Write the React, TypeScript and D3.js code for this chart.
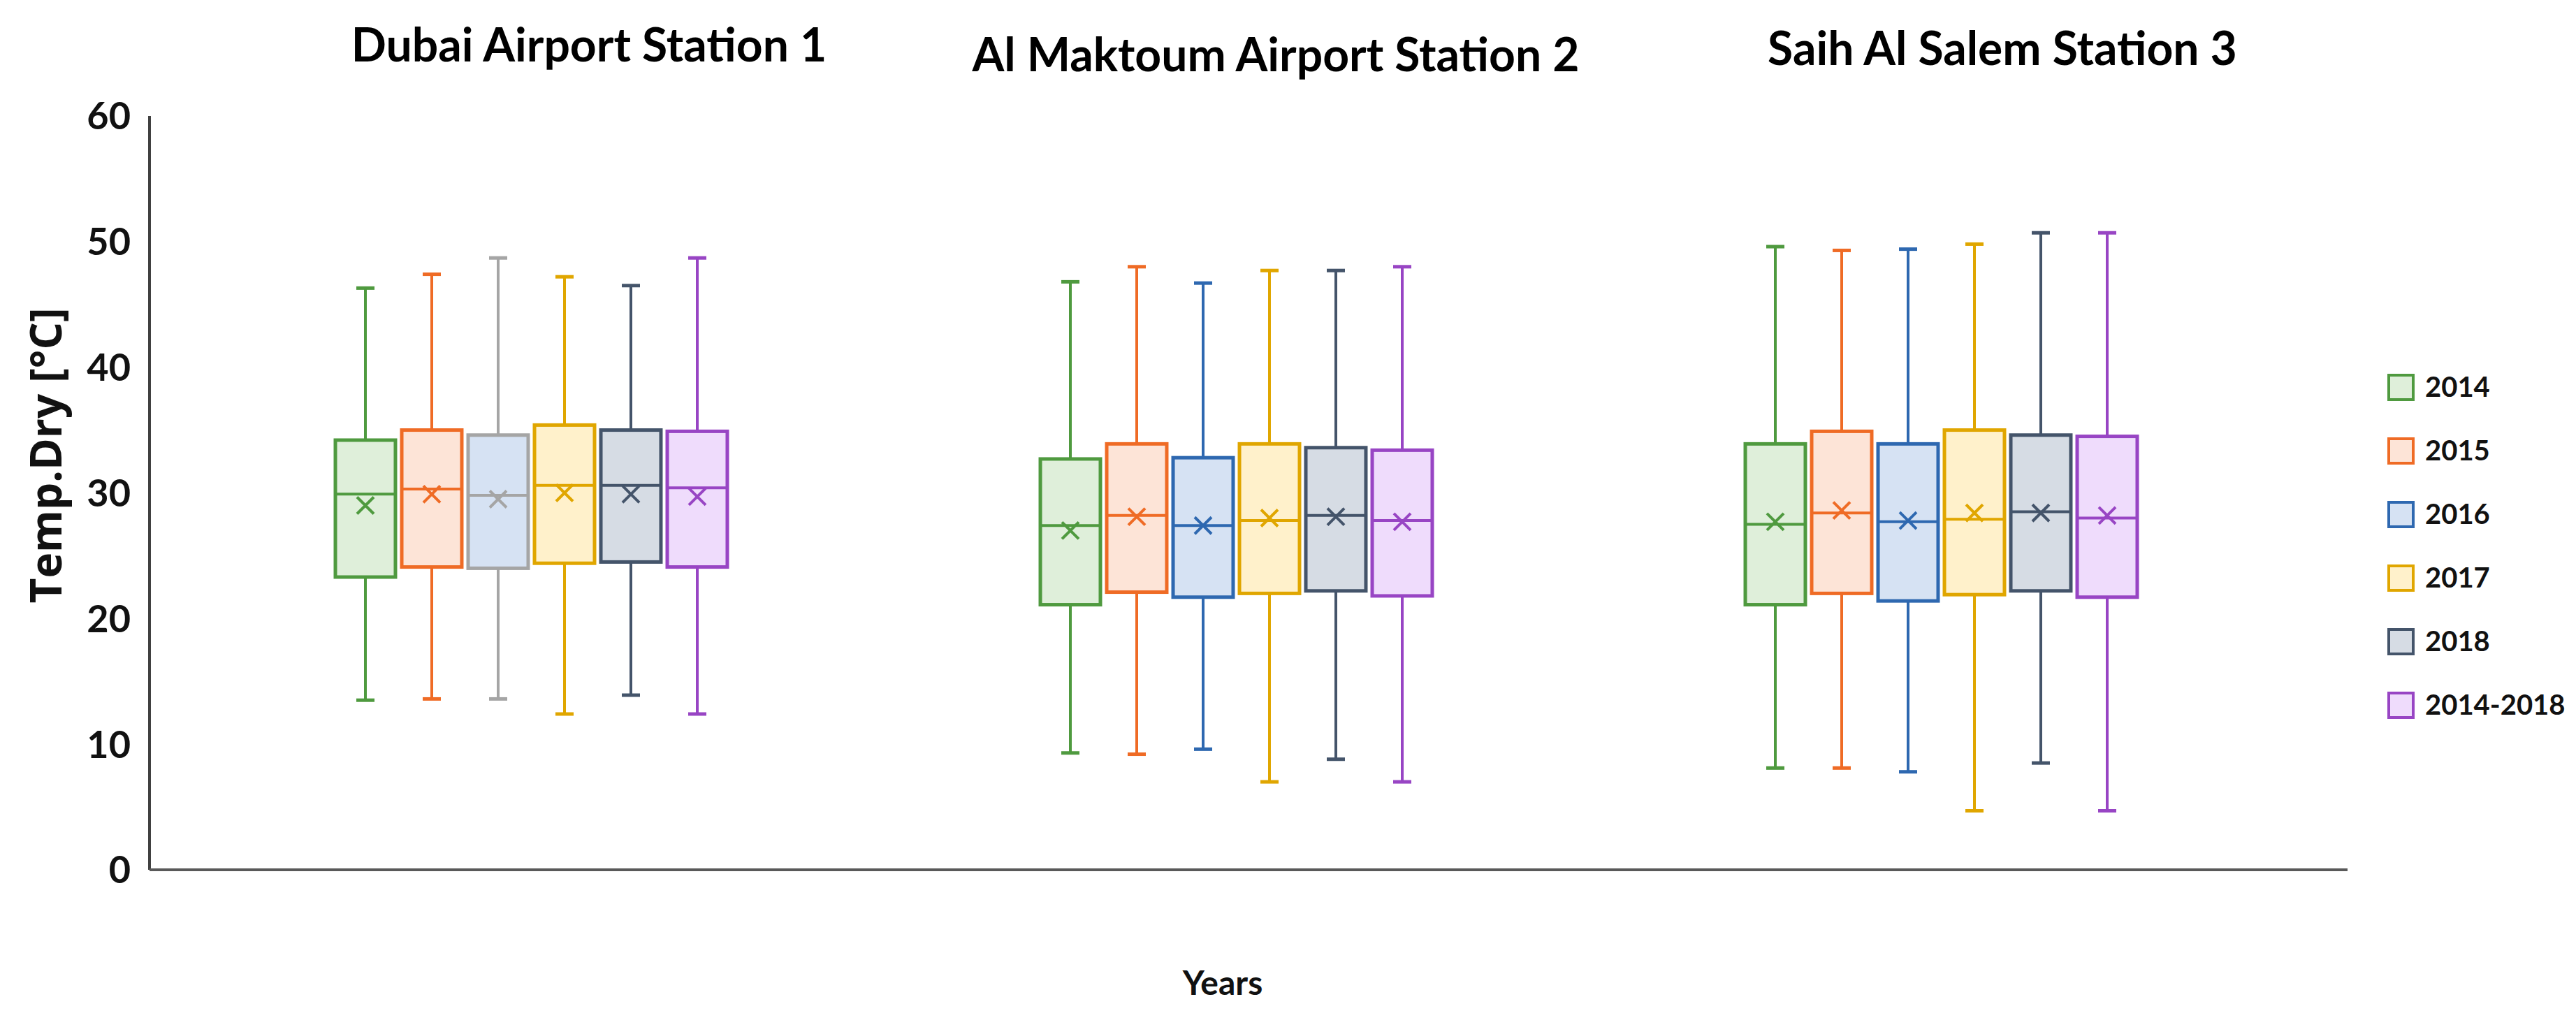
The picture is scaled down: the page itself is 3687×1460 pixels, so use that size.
import React from "react";
import * as d3 from "d3";

const stations = ["Dubai Airport Station 1", "Al Maktoum Airport Station 2", "Saih Al Salem Station 3"];
const years = ["2014", "2015", "2016", "2017", "2018", "2014-2018"];
const yTicks = [0, 10, 20, 30, 40, 50, 60];

// box stats per station, one value per year
const s1Min = [13.5, 13.6, 13.6, 12.4, 13.9, 12.4];
const s1Q1 = [23.3, 24.1, 24.0, 24.4, 24.5, 24.1];
const s1Median = [29.9, 30.3, 29.8, 30.6, 30.6, 30.4];
const s1Q3 = [34.2, 35.0, 34.6, 35.4, 35.0, 34.9];
const s1Max = [46.3, 47.4, 48.7, 47.2, 46.5, 48.7];
const s1Mean = [29.0, 29.9, 29.5, 30.0, 29.9, 29.7];

const s2Min = [9.3, 9.2, 9.6, 7.0, 8.8, 7.0];
const s2Q1 = [21.1, 22.1, 21.7, 22.0, 22.2, 21.8];
const s2Median = [27.4, 28.2, 27.4, 27.8, 28.2, 27.8];
const s2Q3 = [32.7, 33.9, 32.8, 33.9, 33.6, 33.4];
const s2Max = [46.8, 48.0, 46.7, 47.7, 47.7, 48.0];
const s2Mean = [27.0, 28.1, 27.4, 28.0, 28.1, 27.7];

const s3Min = [8.1, 8.1, 7.8, 4.7, 8.5, 4.7];
const s3Q1 = [21.1, 22.0, 21.4, 21.9, 22.2, 21.7];
const s3Median = [27.5, 28.4, 27.7, 27.9, 28.5, 28.0];
const s3Q3 = [33.9, 34.9, 33.9, 35.0, 34.6, 34.5];
const s3Max = [49.6, 49.3, 49.4, 49.8, 50.7, 50.7];
const s3Mean = [27.7, 28.6, 27.8, 28.4, 28.4, 28.2];

const strokes = ["#4f9a3f", "#ef6b25", "#2e68b0", "#e0a600", "#44546a", "#9845c4"];
const fills = ["#dfefda", "#fde4d7", "#d6e2f3", "#fff1cb", "#d6dce4", "#efdcfc"];
// the first station's 2016 box was drawn with a grey outline
const s1Strokes = ["#4f9a3f", "#ef6b25", "#a5a5a5", "#e0a600", "#44546a", "#9845c4"];

const titleX = [843, 1826, 2866];
const titleY = [88, 102, 93];

const W = 3687, H = 1460;
const m = { left: 214, right: 3360, top: 166, bottom: 1245 };
const font = "Lato, 'Open Sans', sans-serif";

export default function App() {
  const stats = [
    { min: s1Min, q1: s1Q1, med: s1Median, q3: s1Q3, max: s1Max, mean: s1Mean, stroke: s1Strokes },
    { min: s2Min, q1: s2Q1, med: s2Median, q3: s2Q3, max: s2Max, mean: s2Mean, stroke: strokes },
    { min: s3Min, q1: s3Q1, med: s3Median, q3: s3Q3, max: s3Max, mean: s3Mean, stroke: strokes },
  ];

  const y = d3.scaleLinear().domain([0, 60]).range([m.bottom, m.top]);
  const xStation = d3.scaleBand().domain(stations).range([256, 3283]);
  const groupW = 570;
  const xYear = d3.scaleBand().domain(years).range([0, groupW]).paddingInner(0.095).paddingOuter(0.0475);
  const bw = xYear.bandwidth();
  const cap = 26;
  const xs = 12;

  return (
    <svg width={W} height={H} style={{ position: "absolute", left: 0, top: 0, background: "#fff" }}>
      {/* axes */}
      <line x1={m.left} x2={m.left} y1={m.top} y2={m.bottom} stroke="#404040" strokeWidth={4} />
      <line x1={m.left} x2={m.right} y1={m.bottom} y2={m.bottom} stroke="#595959" strokeWidth={4} />
      {yTicks.map((t) => (
        <text key={t} x={m.left - 27} y={y(t)} dy="0.36em" textAnchor="end"
          fontFamily={font} fontWeight={700} fontSize={54} fill="#111">{t}</text>
      ))}
      <text transform={`translate(${88},${652}) rotate(-90)`} textAnchor="middle"
        fontFamily="'Open Sans', sans-serif" fontWeight={700} fontSize={62} fill="#111">Temp.Dry [°C]</text>
      <text x={1750} y={1424} textAnchor="middle" fontFamily={font} fontWeight={700} fontSize={48} fill="#111">Years</text>

      {stations.map((st, si) => {
        const s = stats[si];
        const x0 = xStation(st)! + xStation.bandwidth() / 2 - groupW / 2;
        return (
          <g key={st}>
            <text x={titleX[si]} y={titleY[si]} textAnchor="middle" fontFamily={font}
              fontWeight={700} fontSize={66} fill="#000">{st}</text>
            {years.map((yr, i) => {
              const cx = x0 + xYear(yr)! + bw / 2;
              const c = s.stroke[i];
              return (
                <g key={yr}>
                  <line x1={cx} x2={cx} y1={y(s.max[i])} y2={y(s.q3[i])} stroke={c} strokeWidth={4} />
                  <line x1={cx} x2={cx} y1={y(s.q1[i])} y2={y(s.min[i])} stroke={c} strokeWidth={4} />
                  <line x1={cx - cap / 2} x2={cx + cap / 2} y1={y(s.max[i])} y2={y(s.max[i])} stroke={c} strokeWidth={5} />
                  <line x1={cx - cap / 2} x2={cx + cap / 2} y1={y(s.min[i])} y2={y(s.min[i])} stroke={c} strokeWidth={5} />
                  <rect x={cx - bw / 2} y={y(s.q3[i])} width={bw} height={y(s.q1[i]) - y(s.q3[i])}
                    fill={fills[i]} stroke={c} strokeWidth={5} />
                  <line x1={cx - bw / 2} x2={cx + bw / 2} y1={y(s.med[i])} y2={y(s.med[i])} stroke={c} strokeWidth={4} />
                  <path d={`M${cx - xs},${y(s.mean[i]) - xs}L${cx + xs},${y(s.mean[i]) + xs}M${cx - xs},${y(s.mean[i]) + xs}L${cx + xs},${y(s.mean[i]) - xs}`}
                    stroke={c} strokeWidth={4} fill="none" />
                </g>
              );
            })}
          </g>
        );
      })}

      {/* legend */}
      {years.map((yr, i) => (
        <g key={yr} transform={`translate(3419,${554 + i * 91})`}>
          <rect x={0} y={-17} width={35} height={35} fill={fills[i]} stroke={strokes[i]} strokeWidth={4} />
          <text x={52} y={0} dy="0.36em" fontFamily={font} fontWeight={700} fontSize={40} fill="#111">{yr}</text>
        </g>
      ))}
    </svg>
  );
}
